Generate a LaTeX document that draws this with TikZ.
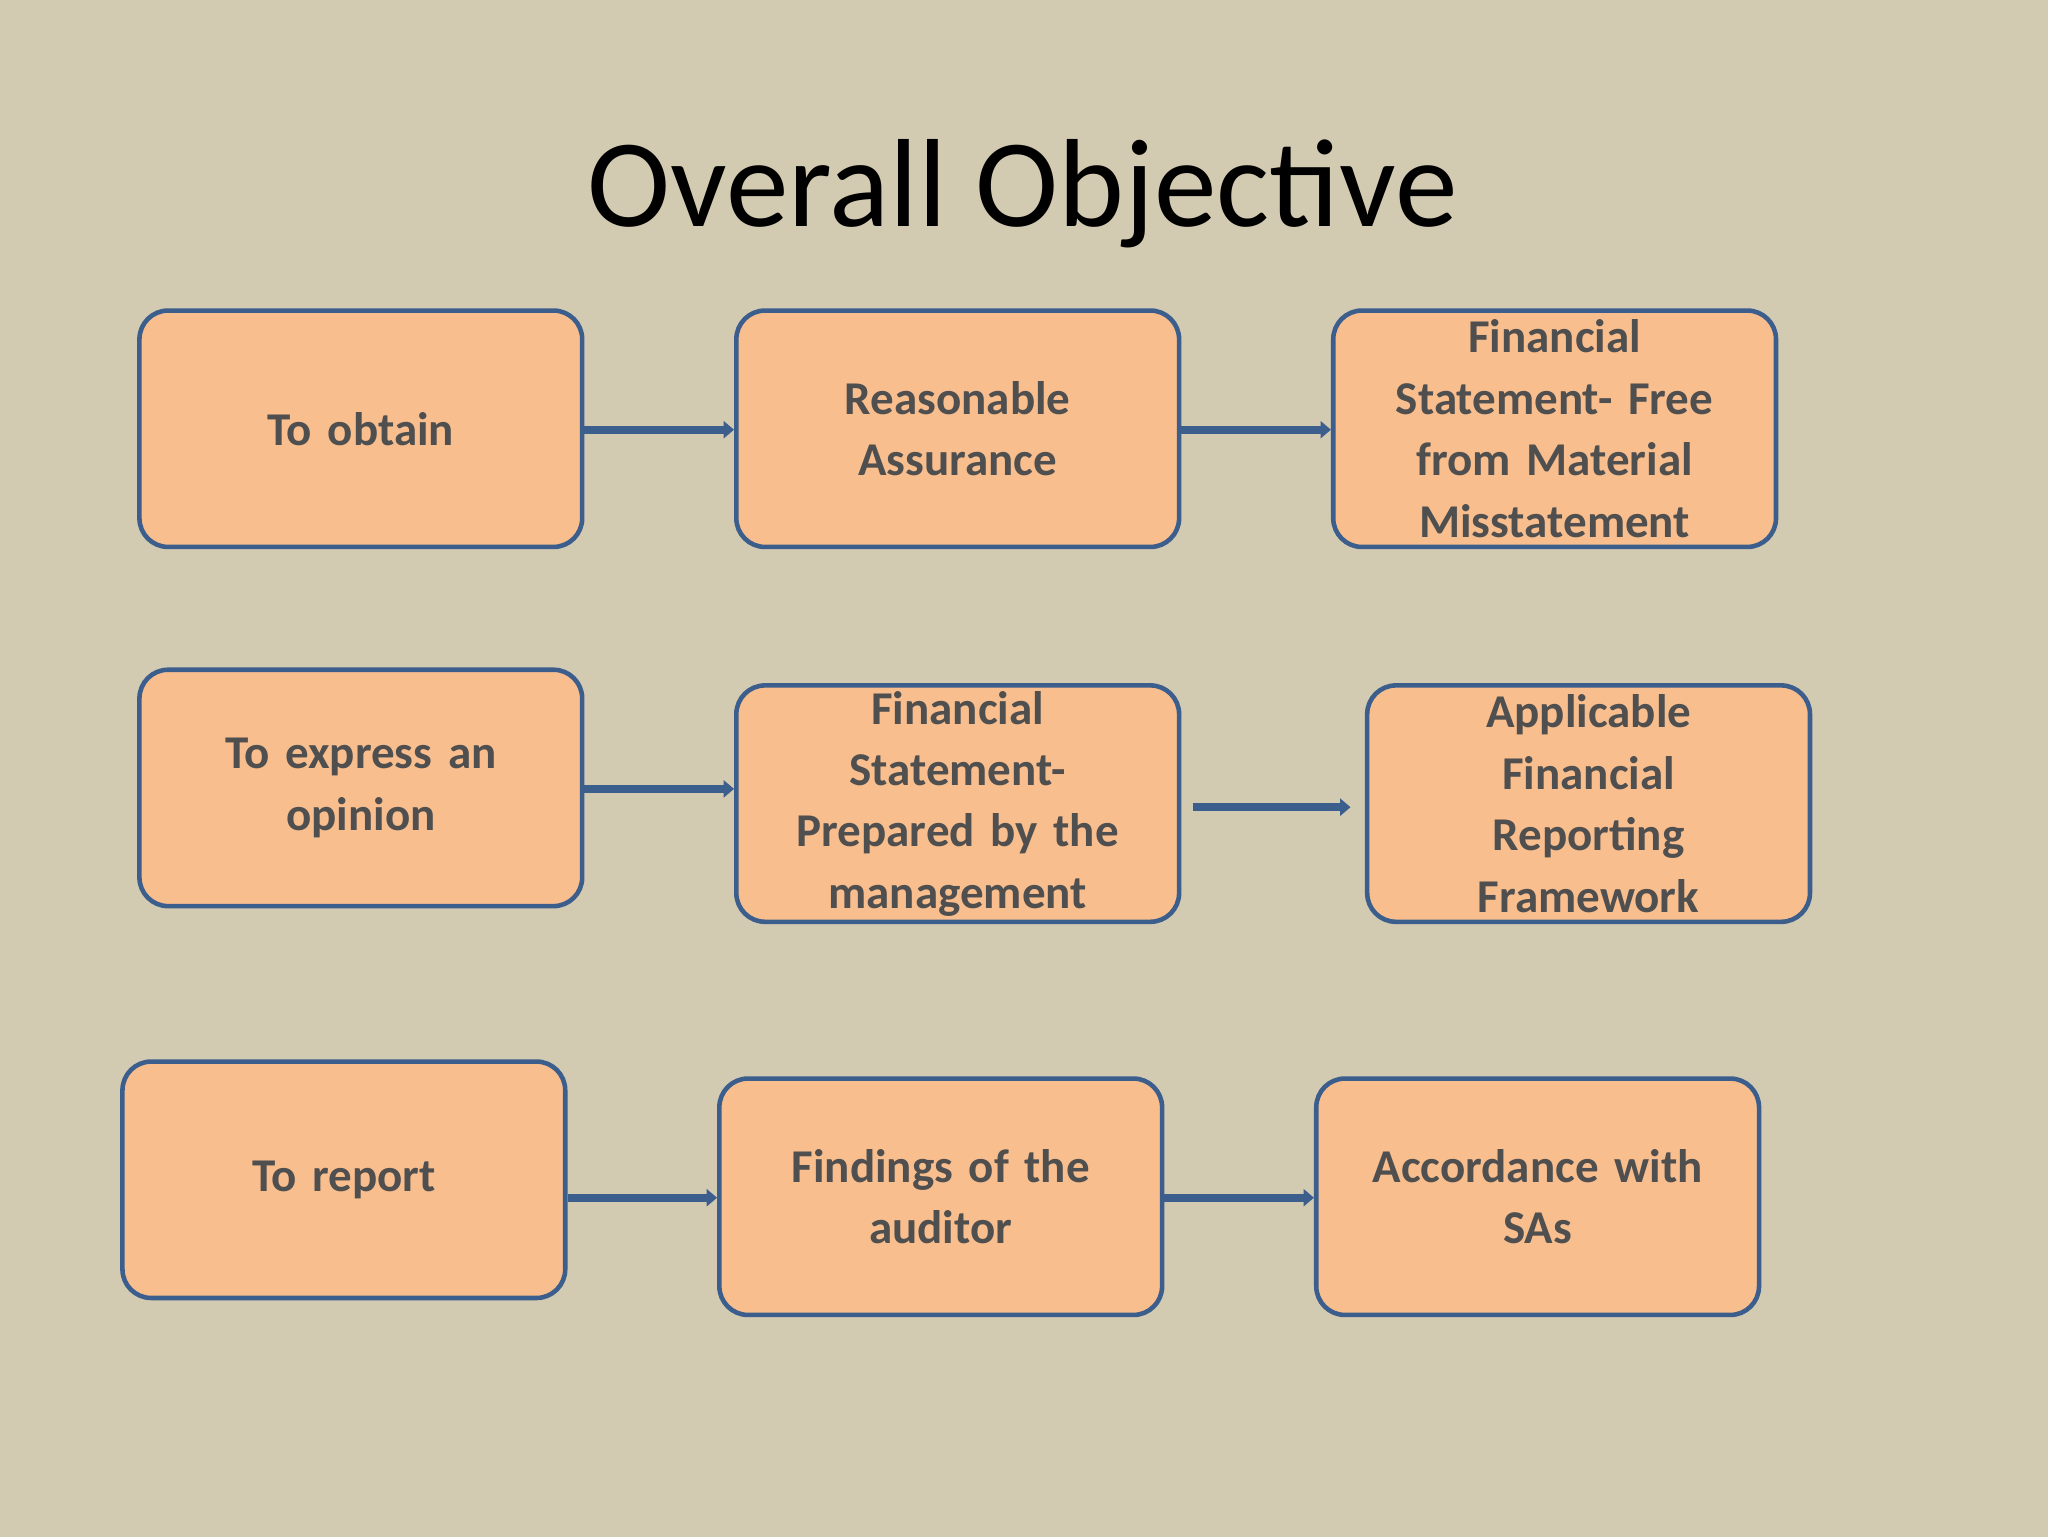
\documentclass[tikz,border=0pt]{standalone}
\usepackage{fontspec}
\setmainfont{Carlito}
\usetikzlibrary{arrows.meta}
\definecolor{bg}{HTML}{D3CAB2}
\definecolor{boxfill}{HTML}{F9BE8E}
\definecolor{boxdraw}{HTML}{3B5E8C}
\definecolor{txt}{HTML}{4F4F4F}
\begin{document}
\begin{tikzpicture}[x=1pt,y=-1pt,
 box/.style={draw=boxdraw,fill=boxfill,line width=3.5pt,rounded corners=22pt,
   minimum width=339pt,minimum height=181pt,text width=300pt,align=center,
   font=\fontsize{36}{47}\selectfont\bfseries,text=txt,anchor=north west,inner sep=0pt},
 arr/.style={draw=boxdraw,line width=6pt,-{Triangle[length=8pt,width=13pt]}}]
\useasboundingbox (0,0) rectangle (1568,1176);
\fill[bg] (-5,-5) rectangle (1573,1181);
\node (title) at (783,148) {\fontsize{96}{100}\selectfont Overall Objective};
\node[box] (a) at (105,236) {To obtain};
\node[box] (b) at (562,236) {Reasonable\\Assurance};
\node[box] (c) at (1019,236) {Financial\\Statement- Free\\from Material\\Misstatement};
\node[box] (d) at (105,511) {To express an\\opinion};
\node[box] (e) at (562,523) {Financial\\Statement-\\Prepared by the\\management};
\node[box] (f) at (1045,523) {Applicable\\Financial\\Reporting\\Framework};
\node[box] (g) at (92,811) {To report};
\node[box] (h) at (549,824) {Findings of the\\auditor};
\node[box] (i) at (1006,824) {Accordance with\\SAs};
\coordinate (e1) at (913,618); \coordinate (f1) at (1034,618);
\draw[arr] (a.east |- 0,329) -- (b.west |- 0,329);
\draw[arr] (b.east |- 0,329) -- (c.west |- 0,329);
\draw[arr] (d.east |- 0,604) -- (e.west |- 0,604);
\draw[arr] (e1) -- (f1);
\draw[arr] (g.east |- 0,917) -- (h.west |- 0,917);
\draw[arr] (h.east |- 0,917) -- (i.west |- 0,917);
\end{tikzpicture}
\end{document}
